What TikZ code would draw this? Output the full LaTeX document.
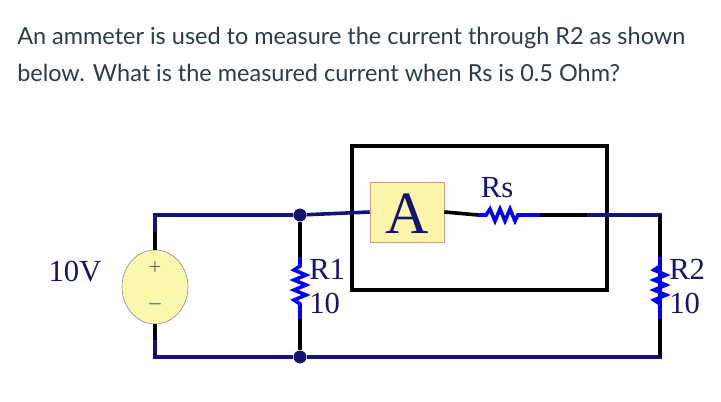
\documentclass[tikz,border=0pt]{standalone}
\usepackage{fontspec}
\usetikzlibrary{shapes.geometric}
\setmainfont{Liberation Serif}
\newfontfamily\qfont{Lato}
\begin{document}
\begin{tikzpicture}[x=0.75pt,y=-0.75pt,
  wire/.style={draw={rgb,255:red,20;green,20;blue,120},line width=2.7pt},
  bwire/.style={black,line width=2.7pt},
  res/.style={blue,line width=2.7pt,line join=miter},
  lbl/.style={text={rgb,255:red,20;green,20;blue,110},font=\fontsize{23pt}{25pt}\selectfont,inner sep=0pt},
  dot/.style={circle,fill={rgb,255:red,20;green,20;blue,110},inner sep=0pt,minimum size=9.5pt}]
\useasboundingbox (0,0) rectangle (721,402);
\node[anchor=base west,align=left,font=\qfont\fontsize{17.6pt}{27.75pt}\selectfont,text={rgb,255:red,45;green,59;blue,69},inner sep=0pt] (q) at (17,82)
 {An ammeter is used to measure the current through R2 as shown\\below. What is the measured current when Rs is 0.5 Ohm?};
% outer box
\node[draw=black,line width=2.8pt,minimum width=255*0.75pt,minimum height=144*0.75pt,inner sep=0pt] (box) at (479.5,218) {};
% nodes
\coordinate (tl) at (155,215); \coordinate (bl) at (155,357);
\node[dot] (j1) at (300,215) {}; \node[dot] (j2) at (300,357) {};
\coordinate (tr) at (660,215); \coordinate (br) at (660,357);
\node[ellipse,draw=gray,fill={rgb,255:red,250;green,248;blue,175},minimum width=66*0.75pt,minimum height=74*0.75pt,inner sep=0pt] (src) at (155,287) {};
\node[font=\fontsize{17pt}{17pt}\selectfont,text=gray!80!black] at (155,268) {+};
\node[font=\fontsize{17pt}{17pt}\selectfont,text=gray!80!black] at (155,307) {--};
\node[draw={rgb,255:red,220;green,150;blue,130},fill={rgb,255:red,253;green,245;blue,170},minimum width=74*0.75pt,minimum height=60*0.75pt,inner sep=0pt] (A) at (407,212) {};
\node[font=\fontsize{45pt}{45pt}\selectfont,text={rgb,255:red,20;green,20;blue,110},inner sep=0pt] (At) at (407,214) {A};
% wires
\draw[wire] (src.north) -- (tl) -- (j1) -- (A.west);
\draw[bwire] (src.north) -- (155,232);
\draw[wire] (src.south) -- (bl) -- (j2) -- (br) -- (tr) -- (587,215);
\draw[bwire] (src.south) -- (155,340);
\draw[bwire] (A.east) -- (478,215);
\draw[res] (478,215) -- (486,215) -- (490,209) -- (495,221) -- (500,209) -- (505,221) -- (510,209) -- (515,221) -- (518,215) -- (540,215);
\draw[bwire] (540,215) -- (587,215);
% R1
\draw[bwire] (j1) -- (300,258); \draw[bwire] (300,318) -- (j2);
\draw[res] (300,257) -- (300,266) -- (294,270) -- (306,275) -- (294,280) -- (306,285) -- (294,290) -- (306,295) -- (294,300) -- (300,304) -- (300,319);
% R2
\draw[bwire] (tr) -- (660,258); \draw[bwire] (660,318) -- (br);
\draw[res] (660,257) -- (660,266) -- (654,270) -- (666,275) -- (654,280) -- (666,285) -- (654,290) -- (666,295) -- (654,300) -- (660,304) -- (660,319);
\node[dot] at (j1) {}; \node[dot] at (j2) {};
% labels
\node[lbl,anchor=west] (l1) at (309,269) {R1};
\node[lbl,anchor=west] (l2) at (309,303) {10};
\node[lbl,anchor=west] (l3) at (669,269) {R2};
\node[lbl,anchor=west] (l4) at (669,303) {10};
\node[lbl] (rs) at (497,188) {Rs};
\node[lbl] (v) at (75,272) {10V};
\end{tikzpicture}
\end{document}
